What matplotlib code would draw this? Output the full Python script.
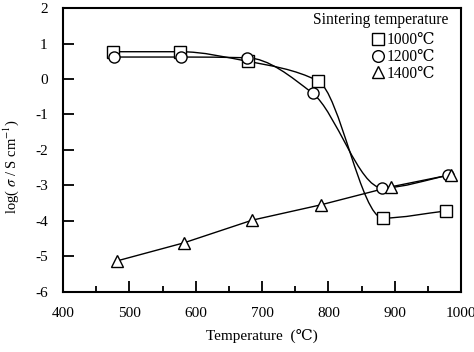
import matplotlib
matplotlib.use("Agg")
import matplotlib.pyplot as plt
import numpy as np
from matplotlib.path import Path
from matplotlib.patches import PathPatch
from matplotlib.ticker import MultipleLocator

plt.rcParams['font.family'] = ['Liberation Serif', 'DejaVu Serif']
plt.rcParams['mathtext.fontset'] = 'stix'
plt.rcParams['axes.unicode_minus'] = False

# Datos
t_1000 = [476, 577, 678, 784, 882, 977]
s_1000 = [0.77, 0.77, 0.50, -0.05, -3.92, -3.72]
t_1200 = [477, 578, 677, 776, 881, 980]
s_1200 = [0.62, 0.62, 0.60, -0.40, -3.07, -2.72]
t_1400 = [481, 582, 685, 788, 894, 984]
s_1400 = [-5.13, -4.62, -3.98, -3.55, -3.04, -2.70]


def curva_suave(ax, xs, ys):
    # Curva cúbica monótona (tipo PCHIP) dibujada con segmentos Bezier
    px = np.asarray(xs, float)
    py = np.asarray(ys, float)
    h = np.diff(px)
    d = np.diff(py) / h
    n = len(px)
    m = np.zeros(n)
    m[0], m[-1] = d[0], d[-1]
    for k in range(1, n - 1):
        if d[k - 1] * d[k] > 0:
            w1 = 2 * h[k] + h[k - 1]
            w2 = h[k] + 2 * h[k - 1]
            m[k] = (w1 + w2) / (w1 / d[k - 1] + w2 / d[k])
    verts = [(px[0], py[0])]
    codes = [Path.MOVETO]
    for i in range(n - 1):
        c1 = (px[i] + h[i] / 3, py[i] + m[i] * h[i] / 3)
        c2 = (px[i + 1] - h[i] / 3, py[i + 1] - m[i + 1] * h[i] / 3)
        verts += [c1, c2, (px[i + 1], py[i + 1])]
        codes += [Path.CURVE4] * 3
    ax.add_patch(PathPatch(Path(verts, codes), facecolor='none',
                           edgecolor='black', lw=1.0, zorder=2))


fig = plt.figure(figsize=(4.74, 3.52), dpi=100)
ax = fig.add_axes([0.133, 0.171, 0.840, 0.806])

curva_suave(ax, t_1000, s_1000)
curva_suave(ax, t_1200, s_1200)
ax.plot(t_1400, s_1400, color='black', lw=1.0, zorder=2)

mk = dict(ls='none', mfc='white', mec='black', mew=1.0, ms=8, zorder=3)
ax.plot(t_1000, s_1000, marker='s', label='1000℃', **mk)
ax.plot(t_1200, s_1200, marker='o', label='1200℃', **mk)
ax.plot(t_1400, s_1400, marker='^', label='1400℃', **mk)

ax.set_xlim(400, 1000)
ax.set_ylim(-6, 2)
ax.xaxis.set_major_locator(MultipleLocator(100))
ax.xaxis.set_minor_locator(MultipleLocator(50))
ax.yaxis.set_major_locator(MultipleLocator(1))
ax.tick_params(which='both', direction='in', labelsize=11, pad=11, width=1.3)
ax.tick_params(which='major', length=8)
ax.tick_params(which='minor', length=4.5)
for sp in ax.spines.values():
    sp.set_linewidth(1.5)

ax.set_xlabel('Temperature  (℃)', fontsize=11, labelpad=6)
ax.set_ylabel(r'log( $\sigma$ / S cm$^{-1}$)', fontsize=10.5)
ax.yaxis.set_label_coords(-0.105, 0.44)

# Leyenda: título como texto y entradas debajo
ax.text(0.967, 0.985, 'Sintering temperature', transform=ax.transAxes,
        ha='right', va='top', fontsize=11.2)
ax.legend(loc='upper right', bbox_to_anchor=(0.935, 0.915),
          frameon=False, fontsize=11.2, borderpad=0, borderaxespad=0,
          handlelength=0.9, handletextpad=0.1, labelspacing=0.05,
          markerscale=1.05)

fig.savefig('out.png', dpi=100)
